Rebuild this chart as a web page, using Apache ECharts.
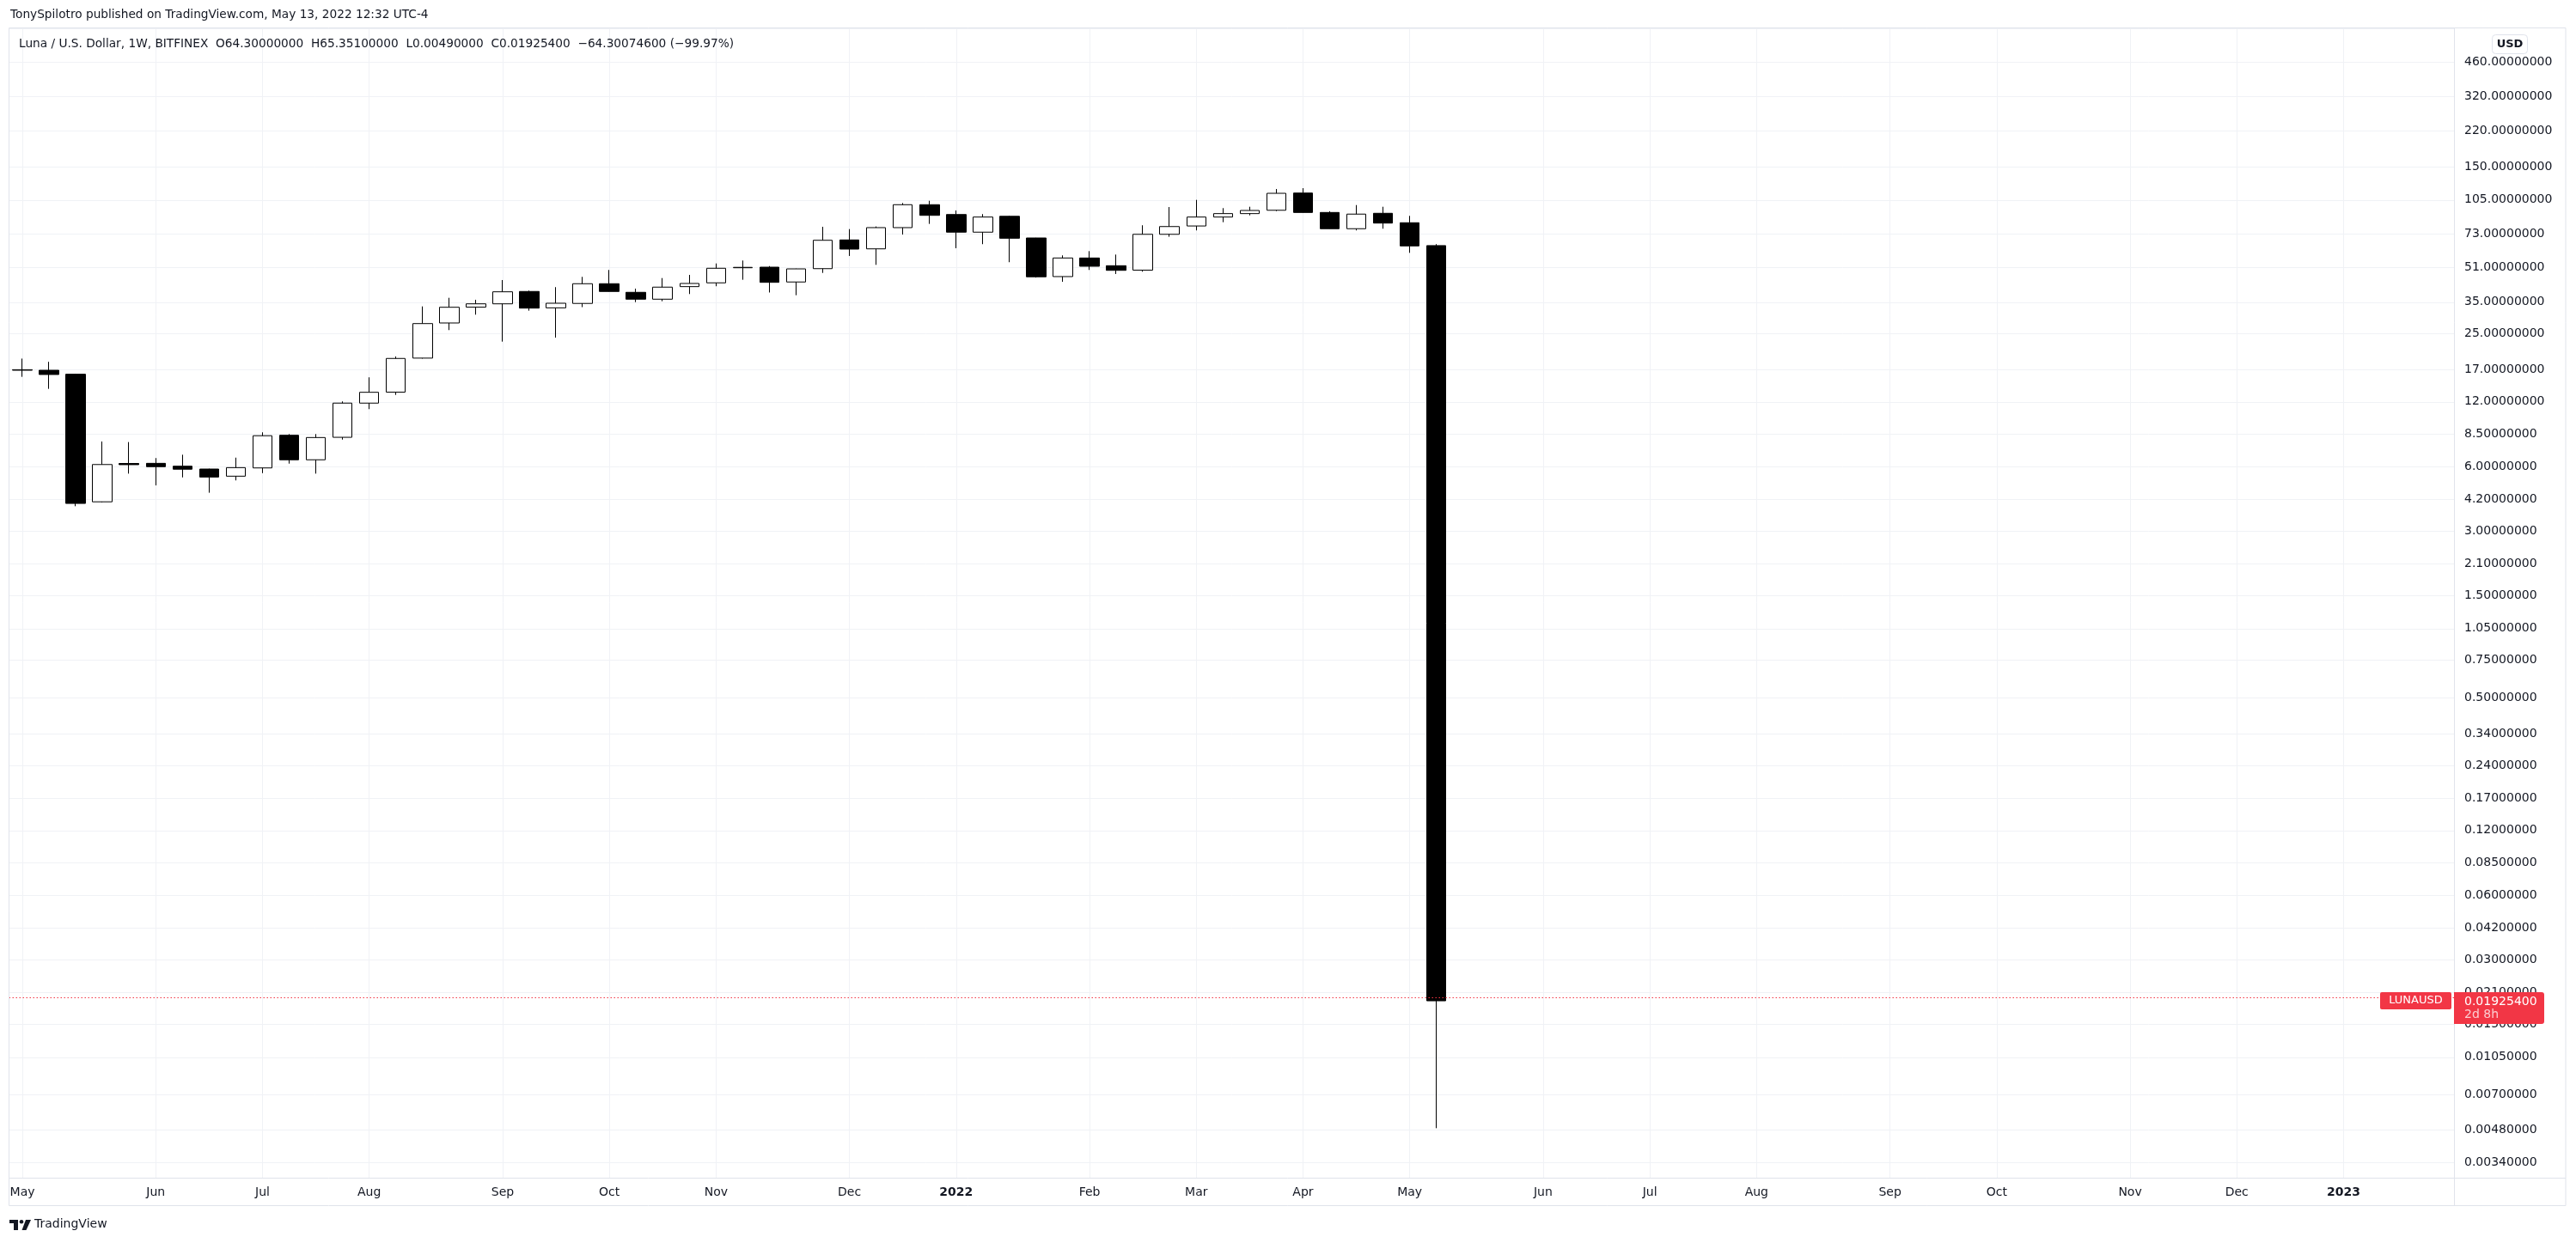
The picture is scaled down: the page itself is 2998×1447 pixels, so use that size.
<!DOCTYPE html>
<html><head><meta charset="utf-8">
<script src="https://cdn.jsdelivr.net/npm/echarts@6/dist/echarts.min.js"></script>
<style>html,body{margin:0;padding:0;background:#fff;}#c{width:2998px;height:1447px;}</style>
</head><body><div id="c"></div>
<script>
// Weekly bars (Monday start), LUNA/USD Bitfinex
const weeks = ['2021-05-03','2021-05-10','2021-05-17','2021-05-24','2021-05-31','2021-06-07','2021-06-14','2021-06-21','2021-06-28',
 '2021-07-05','2021-07-12','2021-07-19','2021-07-26','2021-08-02','2021-08-09','2021-08-16','2021-08-23','2021-08-30',
 '2021-09-06','2021-09-13','2021-09-20','2021-09-27','2021-10-04','2021-10-11','2021-10-18','2021-10-25',
 '2021-11-01','2021-11-08','2021-11-15','2021-11-22','2021-11-29','2021-12-06','2021-12-13','2021-12-20','2021-12-27',
 '2022-01-03','2022-01-10','2022-01-17','2022-01-24','2022-01-31','2022-02-07','2022-02-14','2022-02-21','2022-02-28',
 '2022-03-07','2022-03-14','2022-03-21','2022-03-28','2022-04-04','2022-04-11','2022-04-18','2022-04-25','2022-05-02','2022-05-09'];
const opens  = [16.85,16.85,16.15,4.10,6.19,6.20,6.01,5.83,5.40,5.90,8.38,6.44,8.20,11.84,13.32,19.2,28.0,33.2,34.4,39.29,32.95,34.55,42.7,38.93,36.16,41.39,43.1,50.69,51.0,43.5,50.2,68.35,62.1,78.0,99.8,89.8,74.3,88.1,69.8,46.1,56.3,51.8,49.4,72.6,79.4,87.4,90.7,94.0,113.1,91.8,77.1,91.0,82.2,64.3];
const closes = [16.95,16.10,4.03,6.12,6.11,5.98,5.82,5.35,5.92,8.34,6.44,8.18,11.84,13.30,19.13,27.82,33.16,34.40,39.15,32.85,34.62,42.70,39.29,36.16,41.16,42.82,50.41,50.9,43.34,50.08,68.09,61.93,78.0,99.8,89.0,74.3,87.4,69.6,46.0,56.3,51.5,49.3,72.6,78.9,87.4,90.7,93.8,112.8,91.8,77.1,90.2,81.9,64.1,0.019254];
const lows   = [15.7,13.8,3.91,4.08,5.55,4.89,5.33,4.52,5.16,5.58,6.18,5.55,8.00,11.10,12.93,19.1,25.94,30.62,22.92,31.96,23.93,33.2,39.2,35.04,35.37,38.22,41.55,44.55,38.86,37.73,47.96,57.54,52.3,72.4,81.2,62.5,65.3,53.8,45.6,43.6,49.5,47.4,48.6,70.7,75.7,82.7,89.0,93.2,91.6,77.0,75.7,77.1,59.5,0.0049];
const highs  = [19.1,18.45,16.2,7.84,7.79,6.56,6.80,5.85,6.59,8.65,8.49,8.49,12.06,15.62,19.54,33.46,36.7,35.93,44.42,39.65,41.16,45.96,49.5,40.5,45.37,46.95,53.08,54.78,51.6,50.2,78.72,76.78,79.0,101.6,104.1,93.8,90.2,88.5,69.9,57.9,60.6,58.4,80.0,97.3,105.1,96.2,97.6,118.1,119.2,93.0,99.4,97.6,88.5,65.351];
// Time axis labels (week index from 2021-05-03)
const timeTickIndex  = [0,5,9,13,18,22,26,31,35,40,44,48,52,57,61,65,70,74,79,83,87];
const timeTickLabels = ['May','Jun','Jul','Aug','Sep','Oct','Nov','Dec','2022','Feb','Mar','Apr','May','Jun','Jul','Aug','Sep','Oct','Nov','Dec','2023'];
// Price scale
const priceGridValues  = [660,460,320,220,150,105,73,51,35,25,17,12,8.5,6,4.2,3,2.1,1.5,1.05,0.75,0.5,0.34,0.24,0.17,0.12,0.085,0.06,0.042,0.03,0.021,0.015,0.0105,0.007,0.0048,0.0034];
const priceLabelValues = [460,320,220,150,105,73,51,35,25,17,12,8.5,6,4.2,3,2.1,1.5,1.05,0.75,0.5,0.34,0.24,0.17,0.12,0.085,0.06,0.042,0.03,0.021,0.015,0.0105,0.007,0.0048,0.0034];
const lastClose = 0.019254;

const FONT = 'DejaVu Sans';
const TXT = '#131722';
const GRIDC = '#f0f2f6';
const BORD = '#e0e3eb';
const RED = '#f23645';

const candleData = weeks.map((w, i) => [i, opens[i], closes[i], lows[i], highs[i]]);

const chart = echarts.init(document.getElementById('c'), null, {renderer: 'canvas'});

const staticGraphics = [
  {type:'text', left: 12, top: 10, z: 10, style:{text:'TonySpilotro published on TradingView.com, May 13, 2022 12:32 UTC-4', fill: TXT, font: '13.7px "DejaVu Sans"'}},
  {type:'text', left: 22, top: 44, z: 10, style:{text:'Luna / U.S. Dollar, 1W, BITFINEX  O64.30000000  H65.35100000  L0.00490000  C0.01925400  \u221264.30074600 (\u221299.97%)', fill: TXT, font: '13.7px "DejaVu Sans"'}},
  // pane borders
  {type:'rect', z: 20, shape:{x:10.5, y:32.5, width:2975.5, height:1371}, style:{fill:'none', stroke: BORD, lineWidth:1}},
  {type:'line', z: 20, shape:{x1:10.5, y1:1371.5, x2:2986, y2:1371.5}, style:{stroke: BORD, lineWidth:1}},
  {type:'line', z: 20, shape:{x1:2856.5, y1:32.5, x2:2856.5, y2:1403.5}, style:{stroke: BORD, lineWidth:1}},
  // USD badge
  {type:'rect', z: 30, shape:{x:2900.5, y:40.5, width:41, height:22, r:4}, style:{fill:'#ffffff', stroke: BORD, lineWidth:1}},
  {type:'text', z: 31, x: 2921, y: 51.5, style:{text:'USD', fill: TXT, font:'600 13px "DejaVu Sans"', align:'center', verticalAlign:'middle'}},
  // TradingView logo
  {type:'rect', z: 10, shape:{x:11, y:1420, width:10, height:4}, style:{fill: TXT}},
  {type:'rect', z: 10, shape:{x:16, y:1420, width:5, height:12}, style:{fill: TXT}},
  {type:'circle', z: 10, shape:{cx:25, cy:1422.2, r:2.3}, style:{fill: TXT}},
  {type:'polygon', z: 10, shape:{points:[[30,1420],[36,1420],[30.5,1432],[25.5,1432]]}, style:{fill: TXT}},
  {type:'text', z: 10, left: 40, top: 1418, style:{text:'TradingView', fill: TXT, font:'500 14px "DejaVu Sans"'}}
];

const option = {
  animation: false,
  backgroundColor: '#ffffff',
  textStyle: {fontFamily: FONT},
  grid: {left: 10.5, top: 32, right: 142, bottom: 76, containLabel: false},
  xAxis: {
    type: 'value', min: -0.5, max: 91.14,
    axisLine: {show: false},
    axisTick: {show: false, customValues: timeTickIndex},
    splitLine: {show: true, lineStyle: {color: GRIDC, width: 1}},
    axisLabel: {
      customValues: timeTickIndex, margin: 10, color: TXT, fontSize: 14, fontFamily: FONT,
      formatter: function (v) {
        const k = timeTickIndex.indexOf(Math.round(v));
        const s = k >= 0 ? timeTickLabels[k] : '';
        return /^\d{4}$/.test(s) ? '{y|' + s + '}' : s;
      },
      rich: {y: {fontWeight: 'bold', fontSize: 14, color: TXT, fontFamily: FONT}}
    }
  },
  yAxis: {
    type: 'log', logBase: 10, min: 0.002878, max: 669.8, position: 'right',
    axisLine: {show: false},
    axisTick: {show: false, customValues: priceGridValues},
    splitLine: {show: true, lineStyle: {color: GRIDC, width: 1}},
    axisLabel: {customValues: priceLabelValues, margin: 12, color: TXT, fontSize: 14, fontFamily: FONT,
      formatter: function (v) { return Number(v).toFixed(8); }}
  },
  series: [{
    type: 'candlestick',
    data: candleData,
    encode: {x: 0, y: [1, 2, 3, 4]},
    barWidth: 23,
    itemStyle: {color: '#ffffff', color0: '#000000', borderColor: '#000000', borderColor0: '#000000', borderWidth: 1},
    markLine: {
      silent: true, symbol: ['none', 'none'], label: {show: false},
      lineStyle: {color: RED, type: [1.5, 2.5], width: 1},
      data: [{yAxis: lastClose}]
    }
  }],
  graphic: staticGraphics
};
chart.setOption(option);

const py = Math.round(chart.convertToPixel({yAxisIndex: 0}, lastClose));
chart.setOption({graphic: staticGraphics.concat([
  {type:'rect', z: 100, shape:{x:2770, y:py - 10, width:83, height:20, r:2}, style:{fill: RED}},
  {type:'text', z: 101, x: 2811.5, y: py, style:{text:'LUNAUSD', fill:'#ffffff', font:'13px "DejaVu Sans"', align:'center', verticalAlign:'middle'}},
  {type:'rect', z: 100, shape:{x:2856, y:py - 10, width:105, height:37, r:[0,3,3,0]}, style:{fill: RED}},
  {type:'text', z: 101, x: 2868, y: py + 1, style:{text: lastClose.toFixed(8), fill:'#ffffff', font:'14px "DejaVu Sans"', verticalAlign:'middle'}},
  {type:'text', z: 101, x: 2868, y: py + 16, style:{text:'2d 8h', fill:'rgba(255,255,255,0.75)', font:'14px "DejaVu Sans"', verticalAlign:'middle'}}
])}, {replaceMerge: ['graphic']});
</script></body></html>
